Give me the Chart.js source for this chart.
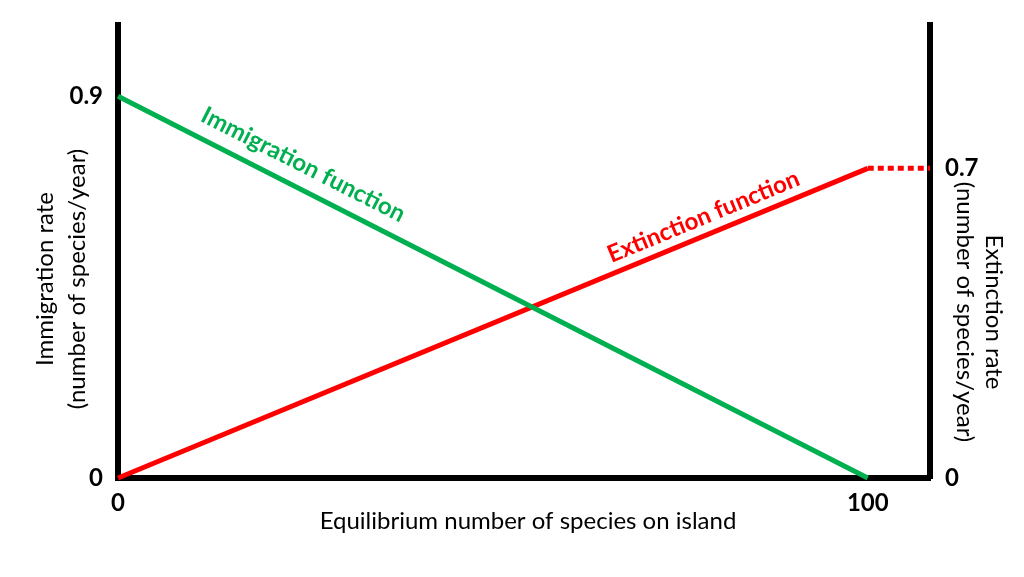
<!DOCTYPE html>
<html>
<head>
<meta charset="utf-8">
<script src="https://cdn.jsdelivr.net/npm/chart.js@4/dist/chart.umd.min.js"></script>
<style>
  html, body { margin: 0; padding: 0; background: #fff; }
</style>
</head>
<body>
<canvas id="islandChart" width="1024" height="577"></canvas>
<script>
// equilibrium model data
const speciesPoints = [0, 100];
const immigrationRates = [0.9, 0];
const extinctionRates = [0, 0.7];
const capSpecies = [100, 108.3];   // dotted continuation of extinction
const capRates = [0.7, 0.7];
const xTicks = [0, 100];
const immigrationTicks = [0, 0.9];
const extinctionTicks = [0, 0.7];
const xMax = 108.3;
const immigrationMax = 1.068;
const extinctionMax = 1.024;

const green = '#00b050';
const red = '#ff0000';
const fontName = 'Lato';

function toPoints(xs, ys) {
    return xs.map(function (x, i) { return { x: x, y: ys[i] }; });
}

function drawAlong(ctx, xs, ys, xv, yv, at, text, color, offset) { // label following a line
    const x0 = xs.getPixelForValue(xv[0]), y0 = ys.getPixelForValue(yv[0]);
    const x1 = xs.getPixelForValue(xv[1]), y1 = ys.getPixelForValue(yv[1]);
    const ang = Math.atan2(y1 - y0, x1 - x0);
    const t = (at - xv[0]) / (xv[1] - xv[0]);
    ctx.save();
    ctx.translate(x0 + t * (x1 - x0), y0 + t * (y1 - y0));
    ctx.rotate(ang);
    ctx.fillStyle = color;
    ctx.font = 'bold 24px ' + fontName;
    ctx.textAlign = 'center';
    ctx.textBaseline = 'middle';
    ctx.fillText(text, 0, -offset);
    ctx.restore();
}

function drawRotated(ctx, text, x, y, angle) {
    ctx.save();
    ctx.translate(x, y);
    ctx.rotate(angle);
    ctx.fillText(text, 0, 0);
    ctx.restore();
}

const textPlugin = {
    id: 'textPlugin',
    afterDraw(chart) {
        const ctx = chart.ctx;
        const s = chart.scales;
        drawAlong(ctx, s.x, s.yImm, speciesPoints, immigrationRates, 23.3, 'Immigration function', green, 23);
        drawAlong(ctx, s.x, s.yExt, speciesPoints, extinctionRates, 79, 'Extinction function', red, 18);

        ctx.save();
        ctx.fillStyle = '#000';
        ctx.font = '24px ' + fontName;
        ctx.textAlign = 'center';
        ctx.textBaseline = 'middle';
        ctx.fillText('Equilibrium number of species on island', 528, 521);
        drawRotated(ctx, 'Immigration rate', 45, 279, -Math.PI / 2);
        drawRotated(ctx, '(number of species/year)', 77, 279, -Math.PI / 2);
        drawRotated(ctx, 'Extinction rate', 994, 312, Math.PI / 2);
        drawRotated(ctx, '(number of species/year)', 965, 312, Math.PI / 2);
        ctx.restore();
    }
};

const tickFont = { family: fontName, size: 24, weight: 'bold' };
const axisBorder = { display: true, color: '#000', width: 6 };

function fixWidth(w) { // fixed axis box, no extra label padding
    return function (scale) {
        scale.width = w;
        scale.paddingTop = 0;
        scale.paddingBottom = 0;
    };
}

new Chart(document.getElementById('islandChart').getContext('2d'), {
    type: 'line',
    data: {
        datasets: [
            {
                data: toPoints(speciesPoints, immigrationRates),
                yAxisID: 'yImm',
                borderColor: green,
                borderWidth: 5,
                pointRadius: 0,
                clip: false
            },
            {
                data: toPoints(speciesPoints, extinctionRates),
                yAxisID: 'yExt',
                borderColor: red,
                borderWidth: 5,
                pointRadius: 0,
                clip: false
            },
            {
                data: toPoints(capSpecies, capRates),
                yAxisID: 'yExt',
                borderColor: red,
                borderWidth: 5,
                borderDash: [6, 4],
                borderCapStyle: 'butt',
                pointRadius: 0,
                clip: false
            }
        ]
    },
    options: {
        responsive: false,
        animation: false,
        layout: { padding: { top: 25, left: 0, right: 0, bottom: 0 } },
        plugins: { legend: { display: false }, tooltip: { enabled: false } },
        scales: {
            x: {
                type: 'linear',
                min: 0,
                max: xMax,
                grid: { display: false, drawTicks: false },
                border: axisBorder,
                afterBuildTicks: function (scale) { scale.ticks = xTicks.map(function (v) { return { value: v }; }); },
                afterFit: function (scale) { scale.height = 99; scale.paddingLeft = 0; scale.paddingRight = 0; },
                ticks: { font: tickFont, color: '#000', padding: 11, maxRotation: 0, autoSkip: false }
            },
            yImm: {
                type: 'linear',
                position: 'left',
                min: 0,
                max: immigrationMax,
                grid: { display: false, drawTicks: false },
                border: axisBorder,
                afterBuildTicks: function (scale) { scale.ticks = immigrationTicks.map(function (v) { return { value: v }; }); },
                afterFit: fixWidth(118),
                ticks: { font: tickFont, color: '#000', padding: 15, autoSkip: false }
            },
            yExt: {
                type: 'linear',
                position: 'right',
                min: 0,
                max: extinctionMax,
                grid: { display: false, drawTicks: false },
                border: axisBorder,
                afterBuildTicks: function (scale) { scale.ticks = extinctionTicks.map(function (v) { return { value: v }; }); },
                afterFit: fixWidth(94),
                ticks: { font: tickFont, color: '#000', padding: 15, autoSkip: false }
            }
        }
    },
    plugins: [textPlugin]
});
</script>
</body>
</html>
